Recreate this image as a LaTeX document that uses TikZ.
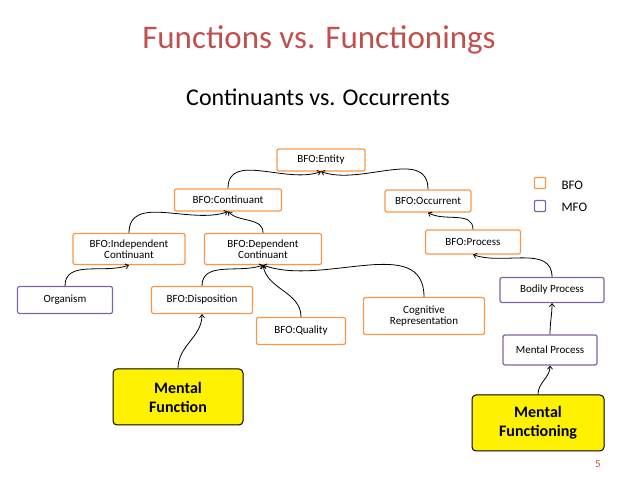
\documentclass[tikz,border=0pt]{standalone}
\usepackage{fontspec}
\setmainfont{Carlito}
\usetikzlibrary{arrows.meta}
\definecolor{bfo}{RGB}{247,150,70}
\definecolor{mfo}{RGB}{128,100,162}
\definecolor{ttl}{RGB}{192,80,77}
\begin{document}
\begin{tikzpicture}[x=1pt,y=-1pt,
 box/.style={draw=#1,line width=1.2pt,rounded corners=2pt,font=\fontsize{11}{13}\selectfont,align=center,inner sep=2pt},
 b/.style={box=bfo},m/.style={box=mfo},
 yel/.style={draw=black,line width=1pt,fill=yellow,rounded corners=4pt,font=\bfseries\fontsize{16}{19}\selectfont,align=center,minimum width=130pt,minimum height=56pt},
 ar/.style={-{Straight Barb[length=3pt,width=5pt]},line width=0.8pt}]
\useasboundingbox (0,0) rectangle (638,478);
\node[text=ttl,font=\fontsize{33}{38}\selectfont] (t) at (319,40) {Functions vs. Functionings};
\node[font=\fontsize{24}{28}\selectfont] (st) at (318,97) {Continuants vs. Occurrents};
\node[b,minimum width=88pt,minimum height=22pt] (ent) at (321,160) {BFO:Entity};
\node[b,minimum width=107pt,minimum height=22pt] (con) at (228,200) {BFO:Continuant};
\node[b,minimum width=86pt,minimum height=22pt] (occ) at (428,201) {BFO:Occurrent};
\node[b,minimum width=112pt,minimum height=31pt] (ind) at (129,249) {BFO:Independent\\[-2pt]Continuant};
\node[b,minimum width=117pt,minimum height=31pt] (dep) at (263,249) {BFO:Dependent\\[-2pt]Continuant};
\node[b,minimum width=95pt,minimum height=24pt] (pro) at (473,242) {BFO:Process};
\node[m,minimum width=95pt,minimum height=27pt] (org) at (65,300) {Organism};
\node[b,minimum width=101pt,minimum height=27pt] (dis) at (202,300) {BFO:Disposition};
\node[b,minimum width=89pt,minimum height=27pt] (qua) at (301,331) {BFO:Quality};
\node[b,minimum width=121pt,minimum height=37pt] (cog) at (424,316) {Cognitive\\[-2pt]Representation};
\node[m,minimum width=104pt,minimum height=25pt] (bod) at (552,290) {Bodily Process};
\node[m,minimum width=94pt,minimum height=30pt] (mp) at (550,350) {Mental Process};
\node[yel] (mf) at (178,397) {Mental\\Function};
\node[yel,minimum width=132pt] (mfg) at (538,423) {Mental\\Functioning};
\node[draw=bfo,line width=1.2pt,rounded corners=1pt,minimum size=11pt,inner sep=0pt] (lb) at (540,183) {};
\node[draw=mfo,line width=1.2pt,rounded corners=1pt,minimum size=11pt,inner sep=0pt] (lm) at (540,206) {};
\node[anchor=west,font=\fontsize{13}{15}\selectfont] (lbt) at (558,185) {BFO};
\node[anchor=west,font=\fontsize{13}{15}\selectfont] (lmt) at (558,207) {MFO};
\node[text=ttl,font=\fontsize{11}{13}\selectfont] (pg) at (598,464) {5};
\draw[ar] (con.north) to[out=90,in=200] (ent.south);
\draw[ar] (occ.north) to[out=90,in=-20] (ent.south);
\draw[ar] (ind.north) to[out=90,in=200] (con.south);
\draw[ar] (dep.north) to[out=90,in=-45] (con.south);
\draw[ar] (org.north) to[out=90,in=200] (ind.south);
\draw[ar] (dis.north) to[out=90,in=200] (dep.south);
\draw[ar] (qua.north) to[out=90,in=-80] (dep.south);
\draw[ar] (cog.north) to[out=90,in=-20] (dep.south);
\draw[ar] (pro.north) to[out=90,in=-30] (occ.south);
\draw[ar] (bod.north) to[out=90,in=-20] (pro.south);
\draw[ar] (mp.north) to[out=90,in=-90] (bod.south);
\draw[ar] (mf.north) to[out=90,in=-90] (dis.south);
\draw[ar] (mfg.north) to[out=90,in=-90] (mp.south);
\end{tikzpicture}
\end{document}
